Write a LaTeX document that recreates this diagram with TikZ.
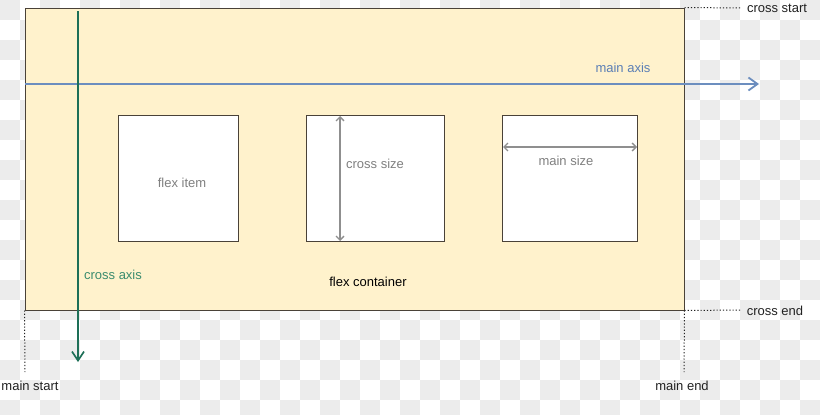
\documentclass[tikz,border=0pt]{standalone}
\usepackage{fontspec}
\setmainfont{Liberation Sans}
\usetikzlibrary{arrows.meta}
\definecolor{checker}{HTML}{ECECEC}
\definecolor{contfill}{HTML}{FFF2CC}
\definecolor{contdraw}{HTML}{4A4238}
\definecolor{mainblue}{HTML}{6C8EBF}
\definecolor{maintext}{HTML}{5B7FB5}
\definecolor{crossgreen}{HTML}{1D6F57}
\definecolor{crosstext}{HTML}{3B8C6E}
\definecolor{itemtext}{HTML}{808080}
\definecolor{sizegray}{HTML}{8F8F8F}
\definecolor{labeltext}{HTML}{222222}
\tikzset{
  container/.style={draw=contdraw, fill=contfill, line width=1pt, inner sep=0pt, minimum width=659pt, minimum height=302pt},
  itembox/.style={draw=contdraw, fill=white, line width=1pt, inner sep=0pt},
  txt/.style={inner sep=0pt, font=\fontsize{13}{15}\selectfont},
  itemlabel/.style={txt, text=itemtext},
  edgelabel/.style={txt, text=labeltext},
  mainaxis/.style={draw=mainblue, line width=1.8pt, -{Straight Barb[length=9pt,width=13pt,line width=1.8pt]}},
  crossaxis/.style={draw=crossgreen, line width=1.6pt, -{Straight Barb[length=9pt,width=12pt,line width=1.6pt]}},
  sizearrow/.style={draw=sizegray, line width=1.3pt, {Straight Barb[length=4pt,width=8pt]}-{Straight Barb[length=4pt,width=8pt]}},
  guide/.style={draw=labeltext, line width=1pt, dash pattern=on 1.2pt off 2pt},
}
\begin{document}
\begin{tikzpicture}[x=1pt,y=-1pt]
\useasboundingbox (0,0) rectangle (820,415);
\begin{scope}
\clip (0,0) rectangle (820,415);
\fill[white] (0,0) rectangle (820,415);
\foreach \j in {0,...,20} {
  \foreach \i in {0,2,...,40} {
    \pgfmathtruncatemacro\ii{\i+mod(\j,2)}
    \fill[checker] (\ii*20,\j*20) rectangle ++(20,20);
  }
}
\end{scope}
% container
\node[container] (cont) at (354.5,159) {};
\node[edgelabel, text=black] (contlabel) at (368,282) {flex container};
% items
\node[itembox, minimum width=120pt, minimum height=126pt] (item1) at (178,178) {};
\node[itembox, minimum width=138pt, minimum height=126pt] (item2) at (375,178) {};
\node[itembox, minimum width=135pt, minimum height=126pt] (item3) at (569.5,178) {};
\node[itemlabel] (l1) at (182,183) {flex item};
\node[itemlabel] (l2) at (375,164) {cross size};
\node[itemlabel] (l3) at (566,161) {main size};
% size arrows
\coordinate (csTop) at (340,116);
\coordinate (csBot) at (340,241);
\draw[sizearrow] (csTop) -- (csBot);
\coordinate (msL) at (503,147);
\coordinate (msR) at (637,147);
\draw[sizearrow] (msL) -- (msR);
% axes
\coordinate (mainS) at (25,84);
\coordinate (mainE) at (759,84);
\draw[mainaxis] (mainS) -- (mainE);
\node[txt, text=maintext] (mainlabel) at (623,68) {main axis};
\coordinate (crossS) at (78,11);
\coordinate (crossE) at (78,362);
\draw[crossaxis] (crossS) -- (crossE);
\node[txt, text=crosstext] (crosslabel) at (113,275) {cross axis};
% guides
\node[edgelabel] (cstart) at (777,8) {cross start};
\node[edgelabel] (cend) at (775,311) {cross end};
\node[edgelabel] (mstart) at (30,386) {main start};
\node[edgelabel] (mend) at (682,386) {main end};
\coordinate (csG) at (742,8);
\coordinate (ceG) at (742,310);
\coordinate (msG) at (25,372);
\coordinate (meG) at (684,372);
\draw[guide] (cont.north east) -- (csG);
\draw[guide] (cont.south east) -- (ceG);
\draw[guide] (cont.south west) -- (msG);
\draw[guide] (cont.south east) -- (meG);
\end{tikzpicture}
\end{document}
